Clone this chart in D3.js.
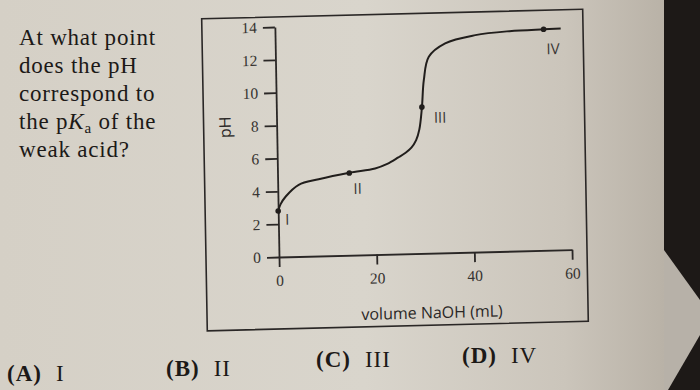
<!DOCTYPE html>
<html>
<head>
<meta charset="utf-8">
<script src="https://cdn.jsdelivr.net/npm/d3@7"></script>
<style>
  body { margin: 0; background: #d6d1c7; }
  svg { display: block; }
</style>
</head>
<body>
<script>
// titration curve
const volume = [0, 0.5, 1.6, 4.3, 8.4, 14.7, 20, 22.5, 24.8, 26.3, 27.5, 28.5, 29.2, 29.8, 30.3, 31.4, 34.8, 41, 48, 55, 58.5];
const pH     = [2.8, 3.2, 3.67, 4.36, 4.67, 5.02, 5.24, 5.5, 5.88, 6.15, 6.45, 6.9, 7.55, 8.87, 10.55, 11.96, 12.75, 13.2, 13.39, 13.45, 13.47];

const pointLabels = ["I", "II", "III", "IV"];
const pointVolume = [0, 14.7, 29.8, 55];
const pointPH     = [2.8, 5.0, 8.9, 13.45];

const xTicks = [0, 20, 40, 60];
const yTicks = [0, 2, 4, 6, 8, 10, 12, 14];

const question = ["At what point", "does the pH", "correspond to", "the pK", "weak acid?"];
const answerKeys = ["(A)", "(B)", "(C)", "(D)"];
const answerVals = ["I", "II", "III", "IV"];

const W = 700, H = 390;

let svg = d3.select("body").append("svg")
    .attr("width", W)
    .attr("height", H);

// paper + dark edge on the right
let defs = svg.append("defs");
let grad = defs.append("linearGradient").attr("id", "paper");
grad.append("stop").attr("offset", "0%").attr("stop-color", "#d5d0c6");
grad.append("stop").attr("offset", "55%").attr("stop-color", "#d9d5cc");
grad.append("stop").attr("offset", "85%").attr("stop-color", "#cbc5bb");
grad.append("stop").attr("offset", "100%").attr("stop-color", "#b9b2a7");

svg.append("rect").attr("width", W).attr("height", H).attr("fill", "#1d1917");
svg.append("rect").attr("width", 664).attr("height", H).attr("fill", "url(#paper)");
svg.append("path")
    .attr("d", "M664,250 L700,300 L700,335 L668,390 L664,390 Z")
    .attr("fill", "#b7b1a8");

// question text
let q = svg.append("text")
    .attr("font-family", "Liberation Serif, serif")
    .attr("font-size", 23)
    .attr("letter-spacing", 0.8)
    .attr("fill", "#1c1917");
question.forEach((s, i) => {
  let t = q.append("tspan").attr("x", 19).attr("y", 45 + i * 28).text(s);
  if (s === "the pK") {
    t.text("the p");
    q.append("tspan").attr("font-style", "italic").text("K");
    q.append("tspan").attr("font-size", 15).attr("dy", 4).text("a");
    q.append("tspan").attr("dy", -4).text(" of the");
  }
});

// answers
const ansX = [7, 166, 316, 462];
const ansY = [381, 376, 367, 363];
answerKeys.forEach((k, i) => {
  let t = svg.append("text")
      .attr("x", ansX[i]).attr("y", ansY[i])
      .attr("font-family", "Liberation Serif, serif")
      .attr("font-size", 23)
      .attr("letter-spacing", 1)
      .attr("fill", "#1c1917");
  t.append("tspan").attr("font-weight", "bold").text(k);
  t.append("tspan").attr("dx", 14).text(answerVals[i]);
});

// chart group, skewed a little like the photographed page
const b = -0.025, c = 0.018;
let g = svg.append("g")
    .attr("transform", `matrix(1,${b},${c},1,${-c * 257},${-b * 279})`);

g.append("rect")
    .attr("x", 206).attr("y", 17)
    .attr("width", 381).attr("height", 312)
    .attr("fill", "none")
    .attr("stroke", "#2a2726")
    .attr("stroke-width", 1.6);

let x = d3.scaleLinear().domain([0, 60]).range([279, 572]);
let y = d3.scaleLinear().domain([0, 14]).range([257, 27]);

let yAxis = g.append("g")
    .attr("transform", "translate(279,0)")
    .call(d3.axisLeft(y).tickValues(yTicks).tickSize(12).tickSizeOuter(0).tickPadding(6));

let xAxis = g.append("g")
    .attr("transform", "translate(0,257)")
    .call(d3.axisBottom(x).tickValues(xTicks).tickSize(10).tickSizeOuter(0).tickPadding(8));

[xAxis, yAxis].forEach(a => {
  a.selectAll("path, line").attr("stroke", "#2a2726").attr("stroke-width", 1.8);
  a.selectAll("text")
      .attr("font-family", "Liberation Serif, serif")
      .attr("font-size", 15.5)
      .attr("fill", "#363331");
});

// curve
let line = d3.line()
    .x((d, i) => x(volume[i]))
    .y((d, i) => y(pH[i]))
    .curve(d3.curveCatmullRom.alpha(0.5));

g.append("path")
    .attr("d", line(volume))
    .attr("fill", "none")
    .attr("stroke", "#211e1c")
    .attr("stroke-width", 2);

// marked points
const lblDx = [9, 8, 18, 9];
const lblDy = [8, 15, 10, 19];
pointLabels.forEach((p, i) => {
  g.append("circle")
      .attr("cx", x(pointVolume[i]))
      .attr("cy", y(pointPH[i]))
      .attr("r", 2.8)
      .attr("fill", "#211e1c");
  g.append("text")
      .attr("x", x(pointVolume[i]) + lblDx[i])
      .attr("y", y(pointPH[i]) + lblDy[i])
      .attr("text-anchor", "middle")
      .attr("dominant-baseline", "central")
      .attr("font-family", "Open Sans, sans-serif")
      .attr("font-size", 15)
      .attr("fill", "#3a3735")
      .text(p);
});

// axis titles
g.append("text")
    .attr("x", 431).attr("y", 322)
    .attr("text-anchor", "middle")
    .attr("font-family", "Open Sans, sans-serif")
    .attr("font-size", 16)
    .attr("fill", "#2a2726")
    .text("volume NaOH (mL)");

g.append("text")
    .attr("transform", "translate(227,126) rotate(-90)")
    .attr("text-anchor", "middle")
    .attr("dominant-baseline", "central")
    .attr("font-family", "Open Sans, sans-serif")
    .attr("font-size", 16)
    .attr("fill", "#2a2726")
    .text("pH");
</script>
</body>
</html>
